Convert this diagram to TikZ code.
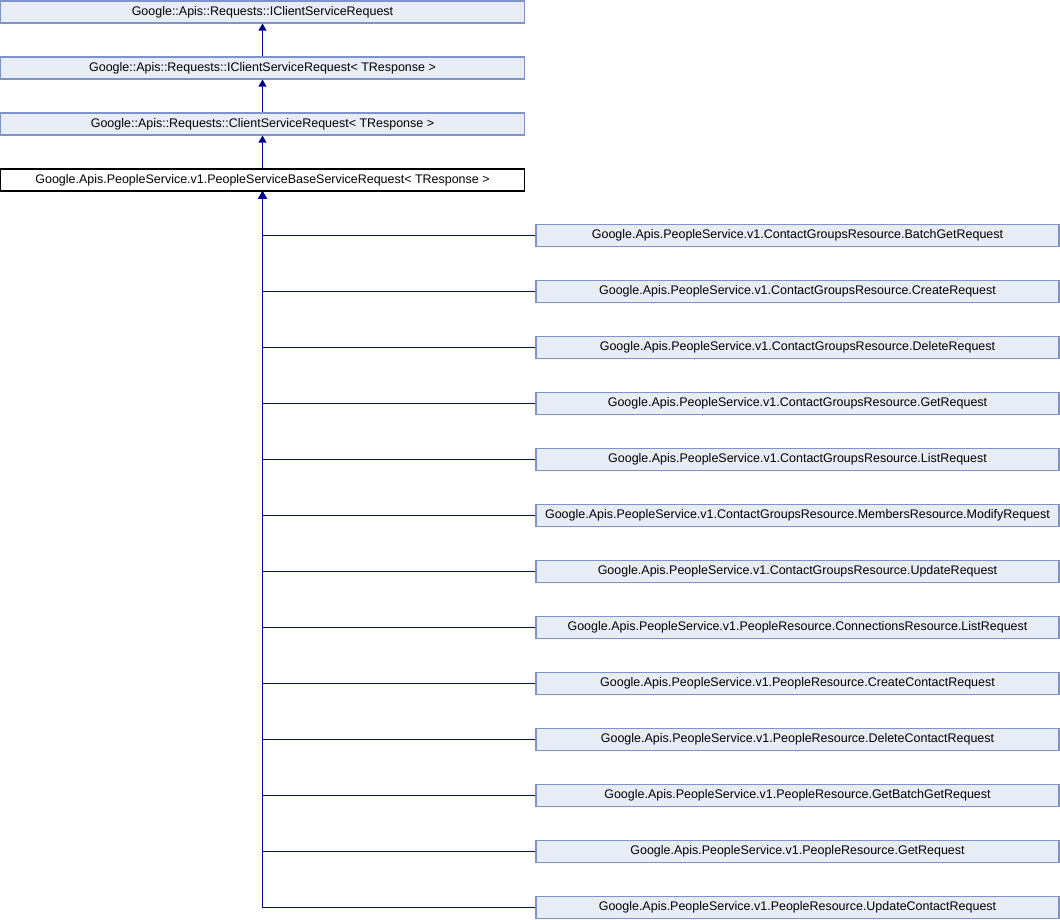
\documentclass[tikz,border=0pt]{standalone}
\usepackage{fontspec}
\setmainfont{Liberation Sans}
\usepackage{xcolor}
\usepackage{tikz}
\usetikzlibrary{arrows.meta}
\usetikzlibrary{positioning}

\definecolor{boxfill}{RGB}{232,236,245}
\definecolor{boxline}{RGB}{126,148,200}
\definecolor{inherit}{RGB}{0,0,160}

\tikzset{
  base/.style={draw=boxline, fill=boxfill, line width=0.6pt, minimum width=10.48cm, minimum height=0.44cm, inner sep=0pt, font=\fontsize{7.1}{9}\selectfont},
  current/.style={base, draw=black, fill=white},
  child/.style={base, minimum width=10.46cm},
  inh/.style={draw=inherit, line width=0.9pt, {Triangle[width=4.4pt,length=4pt]}-}
}

\begin{document}
\begin{tikzpicture}
    \useasboundingbox (0,0) rectangle (21.2,-18.4);
    \node[base] (IReq) at (5.25,-0.24) {Google::Apis::Requests::IClientServiceRequest};
    \node[base] (IReqT) at (5.25,-1.36) {Google::Apis::Requests::IClientServiceRequest< TResponse >};
    \node[base] (CReqT) at (5.25,-2.48) {Google::Apis::Requests::ClientServiceRequest< TResponse >};
    \node[current] (Base) at (5.25,-3.60) {Google.Apis.PeopleService.v1.PeopleServiceBaseServiceRequest< TResponse >};
    \node[child] (CGBatch) at (15.95,-4.71) {Google.Apis.PeopleService.v1.ContactGroupsResource.BatchGetRequest};
    \node[child] (CGCreate) at (15.95,-5.83) {Google.Apis.PeopleService.v1.ContactGroupsResource.CreateRequest};
    \node[child] (CGDelete) at (15.95,-6.95) {Google.Apis.PeopleService.v1.ContactGroupsResource.DeleteRequest};
    \node[child] (CGGet) at (15.95,-8.07) {Google.Apis.PeopleService.v1.ContactGroupsResource.GetRequest};
    \node[child] (CGList) at (15.95,-9.19) {Google.Apis.PeopleService.v1.ContactGroupsResource.ListRequest};
    \node[child] (CGModify) at (15.95,-10.31) {Google.Apis.PeopleService.v1.ContactGroupsResource.MembersResource.ModifyRequest};
    \node[child] (CGUpdate) at (15.95,-11.43) {Google.Apis.PeopleService.v1.ContactGroupsResource.UpdateRequest};
    \node[child] (PConnList) at (15.95,-12.55) {Google.Apis.PeopleService.v1.PeopleResource.ConnectionsResource.ListRequest};
    \node[child] (PCreate) at (15.95,-13.67) {Google.Apis.PeopleService.v1.PeopleResource.CreateContactRequest};
    \node[child] (PDelete) at (15.95,-14.79) {Google.Apis.PeopleService.v1.PeopleResource.DeleteContactRequest};
    \node[child] (PBatch) at (15.95,-15.91) {Google.Apis.PeopleService.v1.PeopleResource.GetBatchGetRequest};
    \node[child] (PGet) at (15.95,-17.03) {Google.Apis.PeopleService.v1.PeopleResource.GetRequest};
    \node[child] (PUpdate) at (15.95,-18.15) {Google.Apis.PeopleService.v1.PeopleResource.UpdateContactRequest};
    \path [inh] (IReq) edge (IReqT);
    \path [inh] (IReqT) edge (CReqT);
    \path [inh] (CReqT) edge (Base);
    \draw [inh] (Base.south) |- (CGBatch.west);
    \draw [inh] (Base.south) |- (CGCreate.west);
    \draw [inh] (Base.south) |- (CGDelete.west);
    \draw [inh] (Base.south) |- (CGGet.west);
    \draw [inh] (Base.south) |- (CGList.west);
    \draw [inh] (Base.south) |- (CGModify.west);
    \draw [inh] (Base.south) |- (CGUpdate.west);
    \draw [inh] (Base.south) |- (PConnList.west);
    \draw [inh] (Base.south) |- (PCreate.west);
    \draw [inh] (Base.south) |- (PDelete.west);
    \draw [inh] (Base.south) |- (PBatch.west);
    \draw [inh] (Base.south) |- (PGet.west);
    \draw [inh] (Base.south) |- (PUpdate.west);
  \end{tikzpicture}
\end{document}
